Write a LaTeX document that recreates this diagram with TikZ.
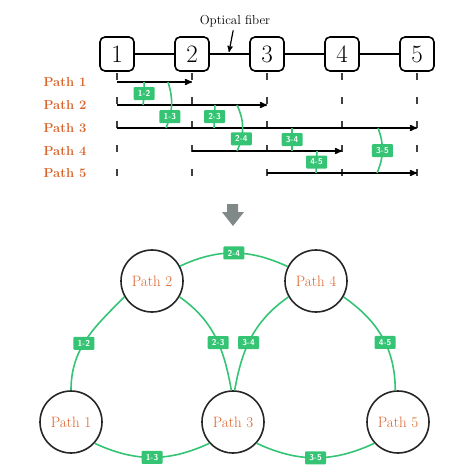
\documentclass[tikz,border=0pt]{standalone}
\usetikzlibrary{arrows}
\definecolor{pathorange}{RGB}{217,100,43}
\definecolor{linkgreen}{RGB}{52,196,116}
\definecolor{arrowgray}{RGB}{128,136,136}
\tikzset{
  station/.style = {draw, rounded corners=5pt, line width=1.6pt, minimum width=34pt, minimum height=34pt, inner sep=0pt, font=\fontsize{25}{25}\selectfont},
  path label/.style = {text=pathorange, font=\bfseries\fontsize{13}{13}\selectfont},
  tag/.style = {fill=linkgreen, text=white, font=\sffamily\bfseries\fontsize{8.5}{8.5}\selectfont, rounded corners=1pt, inner sep=1pt, minimum width=21pt, minimum height=13pt},
  link/.style = {linkgreen, line width=1.6pt},
  guide/.style = {line width=1.4pt, black!75, dash pattern=on 7pt off 17pt, dash phase=-1pt},
  vertex/.style = {circle, draw=black!85, line width=1.6pt, minimum size=62pt, inner sep=0pt, text=pathorange, font=\fontsize{15}{15}\selectfont}
}

\begin{document}
\begin{tikzpicture}[x=1pt, y=1pt, >=stealth']
  \useasboundingbox (0,0) rectangle (474,-474);

  % nodes on the fiber
  \foreach \s/\x in {1/117, 2/192, 3/267, 4/342, 5/417}
    \node[station] (s\s) at (\x,-54) {\s};
  \foreach \a/\b in {1/2, 2/3, 3/4, 4/5}
    \draw[line width=1.6pt] (s\a) -- (s\b);

  \node[font=\fontsize{13}{13}\selectfont] (fiber) at (235,-21) {Optical fiber};
  \coordinate (fibertip) at (229,-52);
  \draw[->, line width=1.2pt] (fiber) -- (fibertip);

  % rows of paths
  \foreach \r/\y in {1/82, 2/105, 3/128, 4/151, 5/173} {
    \node[path label] (l\r) at (65,-\y) {Path \r};
    \foreach \s/\x in {1/117, 2/192, 3/267, 4/342, 5/417}
      \coordinate (d\s-\r) at (\x,-\y);
  }

  \foreach \s/\x in {1/117, 2/192, 3/267, 4/342, 5/417} {
    \coordinate (g\s) at (\x,-184);
    \draw[guide] (s\s.south) -- (g\s);
  }

  \foreach \r/\a/\b in {1/1/2, 2/1/3, 3/1/5, 4/2/4, 5/3/5}
    \draw[->, line width=1.5pt] (d\a-\r) -- (d\b-\r);

  % shared links
  \coordinate (u12) at (144,-82);  \coordinate (v12) at (143,-105);
  \coordinate (u13) at (168,-82);  \coordinate (v13) at (166,-128);
  \coordinate (u23) at (215,-105); \coordinate (v23) at (214,-128);
  \coordinate (u24) at (237,-105); \coordinate (v24) at (237,-151);
  \coordinate (u34) at (292,-128); \coordinate (v34) at (292,-151);
  \coordinate (u45) at (317,-151); \coordinate (v45) at (316,-173);
  \coordinate (u35) at (378,-128); \coordinate (v35) at (377,-173);

  \draw[link] (u12) to[bend left=5] node[tag] {1-2} (v12);
  \draw[link] (u13) to[bend left=20] node[tag, pos=.76] {1-3} (v13);
  \draw[link] (u23) -- node[tag] {2-3} (v23);
  \draw[link] (u24) to[bend left=25] node[tag, pos=.74] {2-4} (v24);
  \draw[link] (u34) -- node[tag] {3-4} (v34);
  \draw[link] (u45) -- node[tag] {4-5} (v45);
  \draw[link] (u35) to[bend left=22] node[tag] {3-5} (v35);

  % down arrow
  \fill[arrowgray] (227,-204) -- (238,-204) -- (238,-212) -- (244,-212) -- (233,-226)
    -- (222,-212) -- (227,-212) -- cycle;

  % conflict graph
  \node[vertex] (p1) at (71,-422) {Path 1};
  \node[vertex] (p2) at (152,-281) {Path 2};
  \node[vertex] (p3) at (233,-422) {Path 3};
  \node[vertex] (p4) at (316,-281) {Path 4};
  \node[vertex] (p5) at (398,-422) {Path 5};

  \draw[link] (p1.90) to[out=90, in=225] node[tag, pos=.45] {1-2} (p2.210);
  \draw[link] (p2.28) to[out=25, in=155] node[tag] {2-4} (p4.153);
  \draw[link] (p2.-30) to[out=-35, in=100] node[tag, pos=.56] {2-3} (p3.93);
  \draw[link] (p3.87) to[out=80, in=215] node[tag, pos=.44] {3-4} (p4.210);
  \draw[link] (p4.-30) to[out=-35, in=90] node[tag, pos=.56] {4-5} (p5.95);
  \draw[link] (p1.-42) to[out=-25, in=-155] node[tag] {1-3} (p3.-138);
  \draw[link] (p3.-42) to[out=-25, in=-155] node[tag] {3-5} (p5.-138);
\end{tikzpicture}
\end{document}
